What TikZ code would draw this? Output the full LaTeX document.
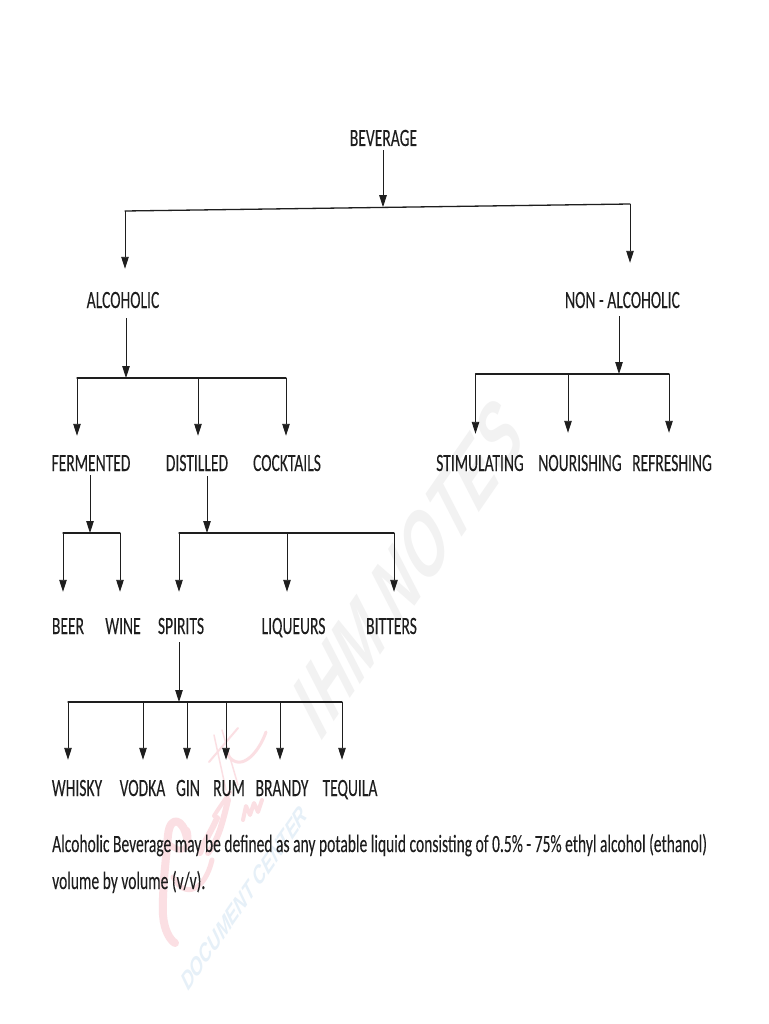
\documentclass[tikz,border=0pt]{standalone}
\usepackage{fontspec}
\setmainfont[FakeBold=0.12]{Carlito}
\newfontfamily\wmfont{Liberation Sans}
\usetikzlibrary{arrows.meta}
\definecolor{wmgrey}{HTML}{F2F2F2}
\definecolor{wmpink}{HTML}{FBDFE3}
\definecolor{wmblue}{HTML}{E6F0F8}
\definecolor{ink}{HTML}{1E1E1E}
\newcommand{\T}[1]{\scalebox{1}[1.6]{\fontsize{15.56}{18}\selectfont #1}}
\tikzset{
  lbl/.style={inner sep=0pt,anchor=base,text=ink},
  arr/.style={draw=ink,line width=0.9pt,-{Stealth[inset=0pt,length=12pt,width=7.5pt]}},
  bar/.style={draw=ink,line width=1.3pt,line cap=round},
  pinkstroke/.style={draw=wmpink,line cap=round,line join=round},
}
\newcommand{\Lab}[6]{\node[lbl,text height=#4pt,text depth=#5pt] (#1) at (#2,#3) {\T{#6}};}
\begin{document}
\begin{tikzpicture}[x=1pt,y=-1pt]
\useasboundingbox[fill=white] (0,0) rectangle (768,1024);
% watermarks
\begin{scope}[yscale=1.45]
\node[text=wmgrey,rotate=45,transform shape,inner sep=0pt] (wmihm) at (408,391.7) {\resizebox{292pt}{47pt}{\wmfont\bfseries\itshape I\kern.08em HM N\kern.04em O\kern.04em T\kern.04em E\kern.04em S}};
\node[text=wmblue,rotate=45,transform shape,inner sep=0pt] (wmdoc) at (244,619.3) {\resizebox{170pt}{12.5pt}{\wmfont\bfseries\itshape DOCUMENT CENTER}};
\end{scope}
% logo
\draw[pinkstroke,line width=8pt] (187,838) .. controls (183,818) and (170,815) .. (168,835) .. controls (166,860) and (162,890) .. (163,915) .. controls (164,930) and (170,940) .. (175,943);
\draw[pinkstroke,line width=6pt] (170,845) .. controls (190,860) and (190,835) .. (187,830);
\draw[pinkstroke,line width=5pt] (173,877) .. controls (185,900) and (205,890) .. (212,860);
\draw[pinkstroke,line width=6pt] (200,853) .. controls (205,840) and (212,830) .. (217,818);
\draw[pinkstroke,line width=6pt] (208,853) .. controls (218,840) and (222,825) .. (228,800);
\draw[pinkstroke,line width=4pt] (214,816) .. controls (220,806) and (225,800) .. (230,792);
\draw[pinkstroke,line width=1.5pt] (214,735) -- (226,790) (222,730) -- (238,785);
\draw[pinkstroke,line width=3pt] (226,752) .. controls (238,775) and (258,755) .. (266,732);
\draw[pinkstroke,line width=2pt] (209,762) -- (238,728);
\draw[pinkstroke,line width=4pt] (243,820) -- (246,806) -- (250,815) -- (254,803) -- (258,812) -- (262,800);
% labels
\Lab{bev}{383.5}{146}{17}{4}{BEVERAGE}
\Lab{alc}{123}{308}{39}{10}{ALCOHOLIC}
\Lab{non}{622.5}{308}{45}{8}{NON - ALCOHOLIC}
\Lab{fer}{91}{471}{35}{4}{FERMENTED}
\Lab{dis}{197}{471}{35}{5}{DISTILLED}
\Lab{coc}{287}{471}{35}{4}{COCKTAILS}
\Lab{sti}{480}{471}{37}{4}{STIMULATING}
\Lab{nou}{580}{471}{38}{4}{NOURISHING}
\Lab{ref}{672}{471}{38}{4}{REFRESHING}
\Lab{bee}{68}{634}{42}{4}{BEER}
\Lab{win}{123}{634}{42}{4}{WINE}
\Lab{spi}{181}{634}{42}{8}{SPIRITS}
\Lab{liq}{293.5}{634}{42}{4}{LIQUEURS}
\Lab{bit}{391.5}{634}{42}{4}{BITTERS}
\Lab{whi}{77}{796}{36}{4}{WHISKY}
\Lab{vod}{142.5}{796}{36}{4}{VODKA}
\Lab{gin}{188}{796}{36}{4}{GIN}
\Lab{rum}{229}{796}{36}{4}{RUM}
\Lab{bra}{282}{796}{36}{4}{BRANDY}
\Lab{teq}{350}{796}{36}{4}{TEQUILA}
\node[inner sep=0pt,anchor=base west,text=ink] (para1) at (52,852) {\T{Alcoholic Beverage may be defined as any potable liquid consisting of 0.5\% - 75\% ethyl alcohol (ethanol)}};
\node[inner sep=0pt,anchor=base west,text=ink] (para2) at (52,889) {\T{volume by volume (v/v).}};
% bar points
\coordinate (b0) at (383,207.2);
\coordinate (b1) at (125,211);
\coordinate (b2) at (630,204);
\coordinate (a0) at (126,378); \coordinate (a1) at (77,378); \coordinate (a2) at (198,378); \coordinate (a3) at (286,378);
\coordinate (n0) at (619,374); \coordinate (n1) at (475.5,374); \coordinate (n2) at (568,374); \coordinate (n3) at (669,374);
\coordinate (f0) at (90,533); \coordinate (f1) at (63,533); \coordinate (f2) at (120,533);
\coordinate (d0) at (207,533); \coordinate (d1) at (179,533); \coordinate (d2) at (287,533); \coordinate (d3) at (394,533);
\coordinate (s0) at (179,702); \coordinate (s1) at (68,702); \coordinate (s2) at (143,702); \coordinate (s3) at (187,702); \coordinate (s4) at (226,702); \coordinate (s5) at (280,702); \coordinate (s6) at (342,702);
% bars
\draw[bar] (b1) -- (b2);
\draw[bar] (a1) -- (a3);
\draw[bar] (n1) -- (n3);
\draw[bar] (f1) -- (f2);
\draw[bar] (d1) -- (d3);
\draw[bar] (s1) -- (s6);
% trunks
\draw[arr] (b0 |- bev.south) -- (b0);
\draw[arr] (a0 |- alc.south) -- (a0);
\draw[arr] (n0 |- non.south) -- (n0);
\draw[arr] (f0 |- fer.south) -- (f0);
\draw[arr] (d0 |- dis.south) -- (d0);
\draw[arr] (s0 |- spi.south) -- (s0);
% drops
\draw[arr] (b1) -- (b1 |- alc.north);
\draw[arr] (b2) -- (b2 |- non.north);
\draw[arr] (a1) -- (a1 |- fer.north);
\draw[arr] (a2) -- (a2 |- dis.north);
\draw[arr] (a3) -- (a3 |- coc.north);
\draw[arr] (n1) -- (n1 |- sti.north);
\draw[arr] (n2) -- (n2 |- nou.north);
\draw[arr] (n3) -- (n3 |- ref.north);
\draw[arr] (f1) -- (f1 |- bee.north);
\draw[arr] (f2) -- (f2 |- win.north);
\draw[arr] (d1) -- (d1 |- spi.north);
\draw[arr] (d2) -- (d2 |- liq.north);
\draw[arr] (d3) -- (d3 |- bit.north);
\draw[arr] (s1) -- (s1 |- whi.north);
\draw[arr] (s2) -- (s2 |- vod.north);
\draw[arr] (s3) -- (s3 |- gin.north);
\draw[arr] (s4) -- (s4 |- rum.north);
\draw[arr] (s5) -- (s5 |- bra.north);
\draw[arr] (s6) -- (s6 |- teq.north);
\end{tikzpicture}
\end{document}
